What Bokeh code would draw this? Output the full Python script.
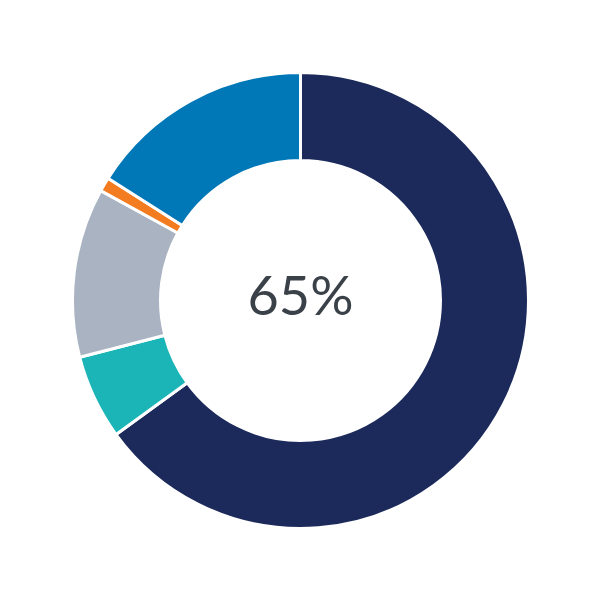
import math
from bokeh.plotting import figure
from bokeh.models import ColumnDataSource
from bokeh.core.properties import value
from bokeh.embed import file_html
from bokeh.resources import INLINE

categories = ["Navy", "Teal", "Gray", "Orange", "Blue"]
values = [65, 6, 12, 1, 16]
colors = ["#1b2a5a", "#1bb5b8", "#a9b3c1", "#f47c20", "#0077b6"]
center_label = "65%"

total = sum(values)
starts, ends = [], []
acc = 0.0
for v in values:
    # clockwise from 12 o'clock
    a0 = math.pi / 2 - 2 * math.pi * acc / total
    acc += v
    a1 = math.pi / 2 - 2 * math.pi * acc / total
    starts.append(a1)
    ends.append(a0)

src = ColumnDataSource(dict(cat=categories, val=values, color=colors,
                            start=starts, end=ends))

S = 228.0
p = figure(width=584, height=584, x_range=(-300 / S, 284 / S),
           y_range=(-284 / S, 300 / S),
           output_backend="svg", toolbar_location=None, min_border=0)
p.annular_wedge(x=0, y=0, inner_radius=0.614, outer_radius=1.0,
                start_angle="start", end_angle="end", fill_color="color",
                line_color="white", line_width=3, source=src)
p.text(x=[0], y=[0], text=[center_label], text_align="center",
       text_baseline="middle", text_font=value("Lato"),
       text_font_size="54px", text_color="#3b4148", y_offset=-6)
p.axis.visible = False
p.grid.visible = False
p.outline_line_color = None
p.background_fill_color = "white"
p.border_fill_color = "white"

open("out.html", "w").write(file_html(p, INLINE))
